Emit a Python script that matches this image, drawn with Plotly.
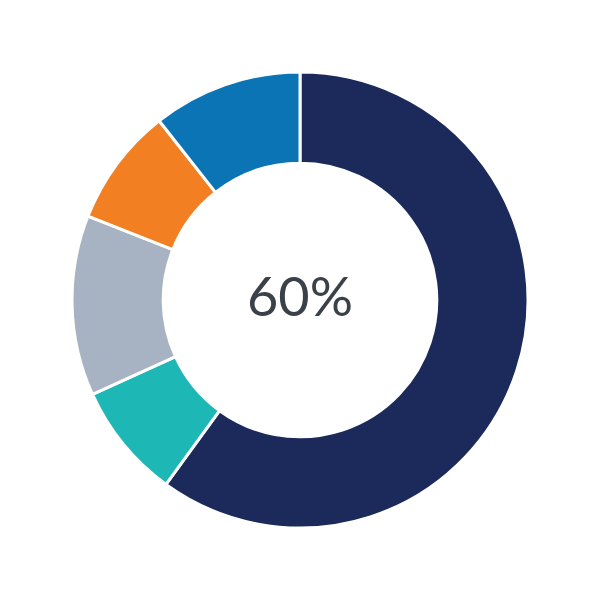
import plotly.graph_objects as go

labels = ['A', 'B', 'C', 'D', 'E']
values = [60, 8.2, 12.8, 8.4, 10.6]
colors = ['#1b2a5a', '#1db7b5', '#a7b3c2', '#f27f22', '#0a74b4']
center_text = '60%'

fig = go.Figure(go.Pie(labels=labels,
                       values=values,
                       hole=0.6,
                       sort=False,
                       direction='clockwise',
                       rotation=0,
                       textinfo='none',
                       hoverinfo='label+percent',
                       marker=dict(colors=colors, line=dict(color='white', width=3))))

# page body adds an 8px offset, so shift the margins to keep the ring centred
fig.update_layout(width=600, height=600,
                  margin=dict(l=64, r=80, t=64, b=80),
                  showlegend=False,
                  paper_bgcolor='white',
                  annotations=[dict(text=center_text, x=0.5, y=0.5, xref='paper', yref='paper',
                                    showarrow=False, yshift=5,
                                    font=dict(family='Lato', size=54, color='#3b4148'))])

fig.write_html("out.html")
